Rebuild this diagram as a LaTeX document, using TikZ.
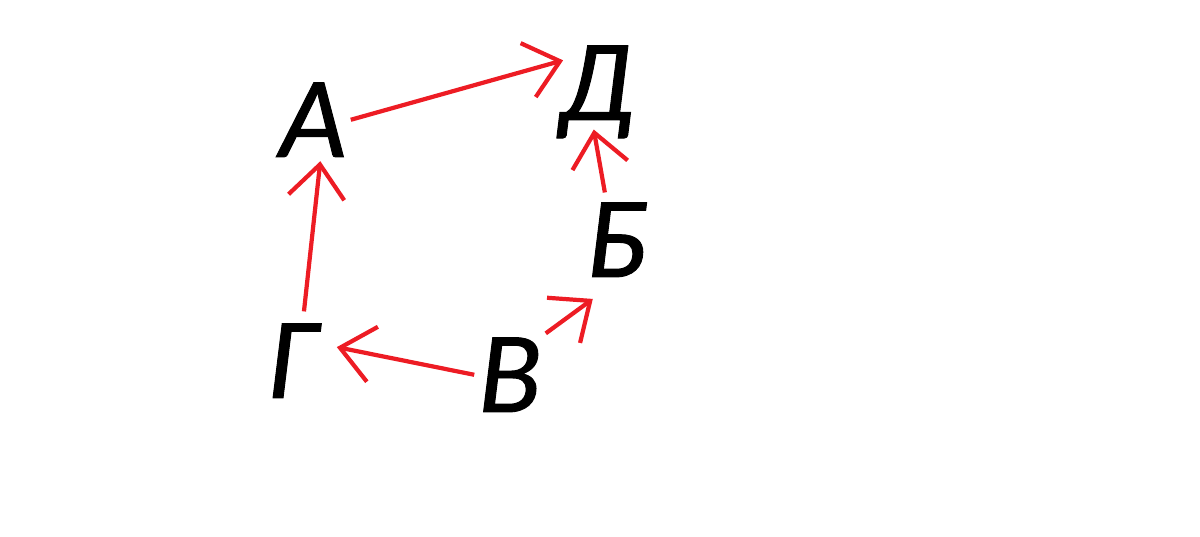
\documentclass[tikz,border=0pt]{standalone}
\usepackage{fontspec}
\setmainfont{Carlito}[ItalicFeatures={FakeBold=0.8}]
\usetikzlibrary{arrows.meta}
\definecolor{paintred}{RGB}{237,28,36}
\begin{document}
\begin{tikzpicture}
      [letter/.style={inner sep=1pt,anchor=base,font=\fontsize{33}{33}\selectfont\itshape},
      link/.style={draw=paintred,line width=1.2pt,-{Straight Barb[length=3.3mm,width=5.6mm]}}]
      \useasboundingbox (0,0) rectangle (12,5.37);
      \node[letter] (a) at (3.13,3.80) {А};
      \node[letter] (d) at (5.96,4.17) {Д};
      \node[letter] (b) at (6.17,2.60) {Б};
      \node[letter] (v) at (5.10,1.25) {В};
      \node[letter] (g) at (2.92,1.39) {Г};
      \path[link,shorten >=-0.09cm] (a.east) -- (d.145);
      \path[link,shorten <=0.06cm,shorten >=-0.13cm] (b.105) -- (d.south);
      \path[link,shorten >=0.3cm] (v.north east) -- (b.south);
      \path[link,shorten >=0.16cm] (v.west) -- (g.30);
      \path[link,shorten <=0.08cm] (g.75) -- (a.-80);
    \end{tikzpicture}
\end{document}
